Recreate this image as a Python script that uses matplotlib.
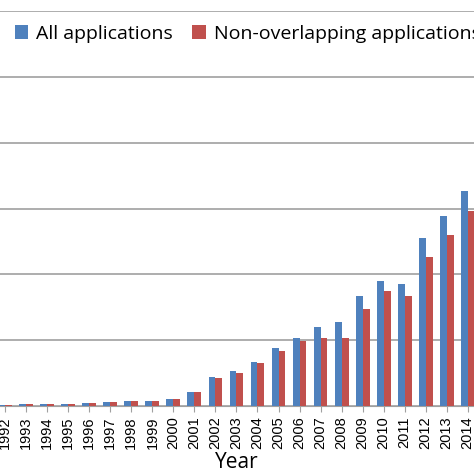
import matplotlib
matplotlib.use("Agg")
import matplotlib.pyplot as plt
import numpy as np

years = [str(y) for y in range(1992, 2015)]
all_apps = [1, 3, 3, 3, 5, 6, 7, 8, 11, 22, 44, 53, 67, 88, 103, 120, 128,
            167, 190, 186, 256, 289, 327]
non_overlap = [1, 3, 3, 3, 5, 6, 7, 8, 11, 21, 43, 50, 66, 84, 98, 104, 104,
               148, 175, 167, 227, 260, 297]

blue = "#4f81bd"
red = "#c0504d"

fig = plt.figure(figsize=(4.74, 4.74), dpi=100)
ax = fig.add_axes([0.0, 0.1435, 1.0, 0.833])

x = np.arange(len(years))
w = 0.33
ax.bar(x - w / 2, all_apps, w, color=blue, label="All applications", zorder=3)
ax.bar(x + w / 2, non_overlap, w, color=red, label="Non-overlapping applications", zorder=3)

ax.set_xlim(-0.25, 22.3)
ax.set_ylim(0, 600)
ax.set_yticks(np.arange(0, 601, 100))
ax.yaxis.grid(True, color="#a0a0a0", linewidth=1.2, zorder=0)
ax.tick_params(axis="y", left=False, labelleft=False)
ax.set_xticks(x)
ax.set_xticklabels(years, rotation=90, fontsize=10.5, family="Liberation Sans")
ax.tick_params(axis="x", length=4, color="#a0a0a0")
for s in ["top", "right", "left"]:
    ax.spines[s].set_visible(False)
ax.spines["bottom"].set_color("#a0a0a0")
ax.set_xlabel("Year", fontsize=15, family="Open Sans", labelpad=2)

leg = ax.legend(loc="upper left", bbox_to_anchor=(0.015, 0.985), ncol=2,
                prop={"family": "Open Sans", "size": 14}, frameon=True,
                fancybox=False, edgecolor="white",
                handlelength=0.7, handleheight=0.7, handletextpad=0.4,
                columnspacing=1.0, borderaxespad=0)
leg.get_frame().set_alpha(1.0)

fig.savefig("out.png", dpi=100)
